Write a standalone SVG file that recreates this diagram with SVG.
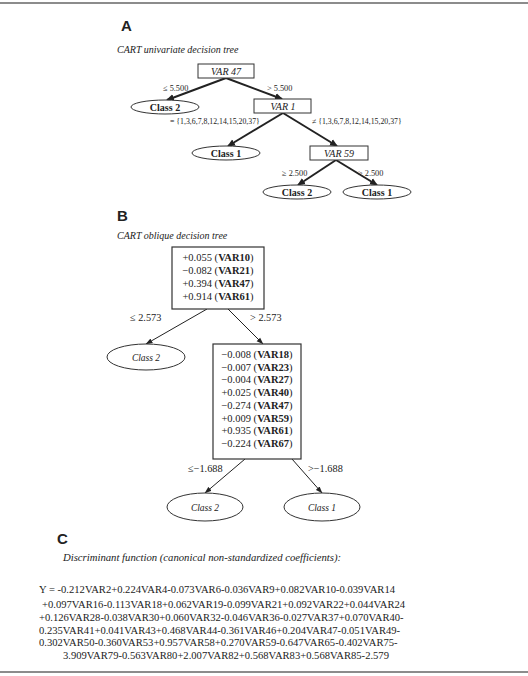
<svg xmlns="http://www.w3.org/2000/svg" width="528" height="676" viewBox="0 0 528 676">
<style>
.sec{font-family:"Liberation Sans",Arial,sans-serif;font-weight:bold;font-size:15px;fill:#222}
.ttl{font-family:"Liberation Serif","Times New Roman",serif;font-style:italic;font-size:10px;fill:#222}
.ttl2{font-family:"Liberation Serif","Times New Roman",serif;font-style:italic;font-size:10.7px;fill:#222}
.var{font-family:"Liberation Serif","Times New Roman",serif;font-style:italic;font-size:10px;fill:#222}
.cls{font-family:"Liberation Serif","Times New Roman",serif;font-weight:bold;font-size:10px;fill:#222}
.lbl{font-family:"Liberation Serif","DejaVu Serif",serif;font-size:8.3px;fill:#222}
.set{font-family:"Liberation Serif","DejaVu Serif",serif;font-size:7.8px;fill:#222}
.box{fill:#fff;stroke:#333;stroke-width:1}
.ell{fill:#fff;stroke:#333;stroke-width:1}
.ea{stroke:#222;stroke-width:2;fill:none}
.eb{stroke:#222;stroke-width:1;fill:none}
.coef{font-family:"Liberation Serif","Times New Roman",serif;font-size:10.5px;fill:#222}
.coef tspan.b{font-weight:bold}
.clsB{font-family:"Liberation Serif","Times New Roman",serif;font-style:italic;font-size:9.5px;fill:#222}
.lblB{font-family:"Liberation Serif","DejaVu Serif",serif;font-size:10.3px;fill:#222}
.eq{font-family:"Liberation Serif","Times New Roman",serif;font-size:10.6px;fill:#222}
.rule{stroke:#666;stroke-width:1.5}
</style>
<defs>
<marker id="ha" markerUnits="userSpaceOnUse" markerWidth="8" markerHeight="8" viewBox="0 0 8 8" refX="7" refY="4" orient="auto">
<path d="M0,0.5 L8,4 L0,7.5 Z" fill="#222"/>
</marker>
<marker id="hb" markerUnits="userSpaceOnUse" markerWidth="7" markerHeight="6" viewBox="0 0 7 6" refX="6.5" refY="3" orient="auto">
<path d="M0,0.5 L7,3 L0,5.5 Z" fill="#222"/>
</marker>
</defs>
<line class="rule" x1="0" y1="3" x2="528" y2="3"/>
<line class="rule" x1="0" y1="672" x2="528" y2="672"/>

<text class="sec" x="121" y="31">A</text>
<text class="ttl" x="117" y="53">CART univariate decision tree</text>

<g id="connectors">
<line class="ea" x1="226" y1="78" x2="167" y2="100" marker-end="url(#ha)"/>
<line class="ea" x1="226" y1="78" x2="282" y2="99" marker-end="url(#ha)"/>
<line class="ea" x1="283" y1="113" x2="228" y2="146" marker-end="url(#ha)"/>
<line class="ea" x1="283" y1="113" x2="337" y2="146" marker-end="url(#ha)"/>
<line class="ea" x1="336" y1="160" x2="298" y2="185" marker-end="url(#ha)"/>
<line class="ea" x1="336" y1="160" x2="377" y2="185" marker-end="url(#ha)"/>
<line class="eb" x1="207" y1="309" x2="146" y2="344" marker-end="url(#hb)"/>
<line class="eb" x1="228" y1="309" x2="263" y2="344" marker-end="url(#hb)"/>
<line class="eb" x1="245" y1="459" x2="205" y2="493" marker-end="url(#hb)"/>
<line class="eb" x1="292" y1="459" x2="322" y2="493" marker-end="url(#hb)"/>
<text class="lbl" x="163" y="91">≤ 5.500</text>
<text class="lbl" x="267" y="91">&gt; 5.500</text>
<text class="set" x="170" y="124">= {1,3,6,7,8,12,14,15,20,37}</text>
<text class="set" x="312" y="124">≠ {1,3,6,7,8,12,14,15,20,37}</text>
<text class="lbl" x="282" y="176">≥ 2.500</text>
<text class="lbl" x="358" y="176">&gt; 2.500</text>
<text class="lblB" x="130" y="321">≤ 2.573</text>
<text class="lblB" x="250" y="321">&gt; 2.573</text>
<text class="lblB" x="188" y="472">≤−1.688</text>
<text class="lblB" x="308" y="472">&gt;−1.688</text>
</g>

<g id="a-var47">
<rect class="box" x="198" y="64" width="56" height="14"/>
<text class="var" x="226" y="75" text-anchor="middle">VAR 47</text>
</g>
<g id="a-class2-left">
<ellipse class="ell" cx="165" cy="107" rx="34" ry="7"/>
<text class="cls" x="165" y="110.5" text-anchor="middle">Class 2</text>
</g>
<g id="a-var1">
<rect class="box" x="254" y="99" width="57" height="14"/>
<text class="var" x="283" y="110" text-anchor="middle">VAR 1</text>
</g>
<g id="a-class1-mid">
<ellipse class="ell" cx="226" cy="153" rx="34" ry="7"/>
<text class="cls" x="226" y="156.5" text-anchor="middle">Class 1</text>
</g>
<g id="a-var59">
<rect class="box" x="310" y="146" width="58" height="14"/>
<text class="var" x="339" y="157" text-anchor="middle">VAR 59</text>
</g>
<g id="a-class2-bottom">
<ellipse class="ell" cx="297" cy="192" rx="34" ry="7"/>
<text class="cls" x="297" y="195.5" text-anchor="middle">Class 2</text>
</g>
<g id="a-class1-bottom">
<ellipse class="ell" cx="377" cy="192" rx="34" ry="7"/>
<text class="cls" x="377" y="195.5" text-anchor="middle">Class 1</text>
</g>

<text class="sec" x="117" y="221">B</text>
<text class="ttl" x="117" y="239">CART oblique decision tree</text>

<g id="b-root">
<rect class="box" x="172" y="247" width="92" height="62" style="stroke-width:1.2"/>
<text class="coef" x="218" y="261" text-anchor="middle">+0.055 (<tspan class="b">VAR10</tspan>)</text>
<text class="coef" x="218" y="274" text-anchor="middle">−0.082 (<tspan class="b">VAR21</tspan>)</text>
<text class="coef" x="218" y="287" text-anchor="middle">+0.394 (<tspan class="b">VAR47</tspan>)</text>
<text class="coef" x="218" y="300" text-anchor="middle">+0.914 (<tspan class="b">VAR61</tspan>)</text>
</g>
<g id="b-class2-left">
<ellipse class="ell" cx="146" cy="357" rx="39" ry="13"/>
<text class="clsB" x="146" y="360.5" text-anchor="middle">Class 2</text>
</g>
<g id="b-node2">
<rect class="box" x="213" y="344" width="88" height="115" style="stroke-width:1.2"/>
<text class="coef" x="257" y="358" text-anchor="middle">−0.008 (<tspan class="b">VAR18</tspan>)</text>
<text class="coef" x="257" y="370.7" text-anchor="middle">−0.007 (<tspan class="b">VAR23</tspan>)</text>
<text class="coef" x="257" y="383.4" text-anchor="middle">−0.004 (<tspan class="b">VAR27</tspan>)</text>
<text class="coef" x="257" y="396.1" text-anchor="middle">+0.025 (<tspan class="b">VAR40</tspan>)</text>
<text class="coef" x="257" y="408.8" text-anchor="middle">−0.274 (<tspan class="b">VAR47</tspan>)</text>
<text class="coef" x="257" y="421.5" text-anchor="middle">+0.009 (<tspan class="b">VAR59</tspan>)</text>
<text class="coef" x="257" y="434.2" text-anchor="middle">+0.935 (<tspan class="b">VAR61</tspan>)</text>
<text class="coef" x="257" y="446.9" text-anchor="middle">−0.224 (<tspan class="b">VAR67</tspan>)</text>
</g>
<g id="b-class2-bottom">
<ellipse class="ell" cx="205" cy="507" rx="38" ry="14"/>
<text class="clsB" x="205" y="510.5" text-anchor="middle">Class 2</text>
</g>
<g id="b-class1-bottom">
<ellipse class="ell" cx="322" cy="507" rx="38" ry="14"/>
<text class="clsB" x="322" y="510.5" text-anchor="middle">Class 1</text>
</g>

<text class="sec" x="57" y="544">C</text>
<text class="ttl2" x="63" y="561">Discriminant function (canonical non-standardized coefficients):</text>
<g id="equation">
<text class="eq" x="39" y="593">Y = -0.212VAR2+0.224VAR4-0.073VAR6-0.036VAR9+0.082VAR10-0.039VAR14</text>
<text class="eq" x="42" y="608">+0.097VAR16-0.113VAR18+0.062VAR19-0.099VAR21+0.092VAR22+0.044VAR24</text>
<text class="eq" x="39" y="621">+0.126VAR28-0.038VAR30+0.060VAR32-0.046VAR36-0.027VAR37+0.070VAR40-</text>
<text class="eq" x="39" y="633.5">0.235VAR41+0.041VAR43+0.468VAR44-0.361VAR46+0.204VAR47-0.051VAR49-</text>
<text class="eq" x="39" y="646">0.302VAR50-0.360VAR53+0.957VAR58+0.270VAR59-0.647VAR65-0.402VAR75-</text>
<text class="eq" x="63" y="659">3.909VAR79-0.563VAR80+2.007VAR82+0.568VAR83+0.568VAR85-2.579</text>
</g>
</svg>
